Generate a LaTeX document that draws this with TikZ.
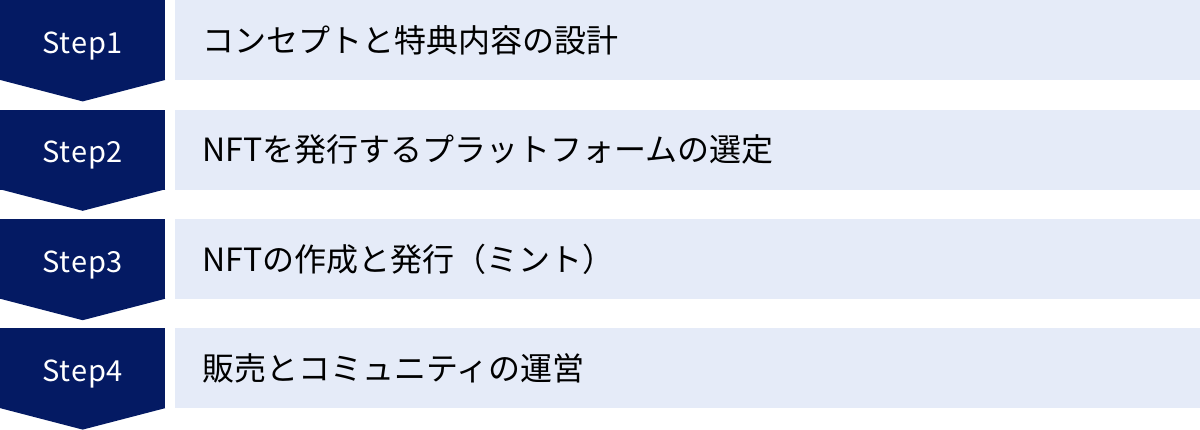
\documentclass[tikz,border=0pt]{standalone}
\usepackage{fontspec}
\setmainfont{Noto Sans CJK JP}
\usepackage{xcolor}
\usetikzlibrary{positioning}

\definecolor{stepnavy}{HTML}{041A63}
\definecolor{rowblue}{HTML}{E5EBF8}

\begin{document}
\begin{tikzpicture}[
    x=1pt, y=1pt,
    node distance=29pt and 9pt,
    stepbox/.style={rectangle, fill=stepnavy, text=white, minimum width=165pt, minimum height=80pt, inner sep=0pt, text height=26pt, text depth=0pt, font=\fontsize{29}{32}\selectfont\addfontfeature{LetterSpace=3}},
    textbox/.style={rectangle, fill=rowblue, text=black, text width=970pt, align=left, inner xsep=28pt, inner ysep=0pt, minimum height=80pt, font=\fontsize{32}{38}\selectfont},
    stepdown/.style={fill=stepnavy}
]
\useasboundingbox (0,0) rectangle (1200,-429);

\node[stepbox, anchor=north west] (s1) at (0,0) {Step1};
\node[stepbox, below=of s1] (s2) {Step2};
\node[stepbox, below=of s2] (s3) {Step3};
\node[stepbox, below=of s3] (s4) {Step4};

\node[textbox, right=of s1] (t1) {コンセプトと特典内容の設計};
\node[textbox, right=of s2] (t2) {NFTを発行するプラットフォームの選定};
\node[textbox, right=of s3] (t3) {NFTの作成と発行（ミント）};
\node[textbox, right=of s4] (t4) {販売とコミュニティの運営};

% arrow points under each step
\fill[stepdown] ([yshift=0.5pt]s1.south west) -- ([yshift=0.5pt]s1.south east) -- ([yshift=-21pt]s1.south) -- cycle;
\fill[stepdown] ([yshift=0.5pt]s2.south west) -- ([yshift=0.5pt]s2.south east) -- ([yshift=-21pt]s2.south) -- cycle;
\fill[stepdown] ([yshift=0.5pt]s3.south west) -- ([yshift=0.5pt]s3.south east) -- ([yshift=-21pt]s3.south) -- cycle;
\fill[stepdown] ([yshift=0.5pt]s4.south west) -- ([yshift=0.5pt]s4.south east) -- ([yshift=-21pt]s4.south) -- cycle;

\end{tikzpicture}
\end{document}
